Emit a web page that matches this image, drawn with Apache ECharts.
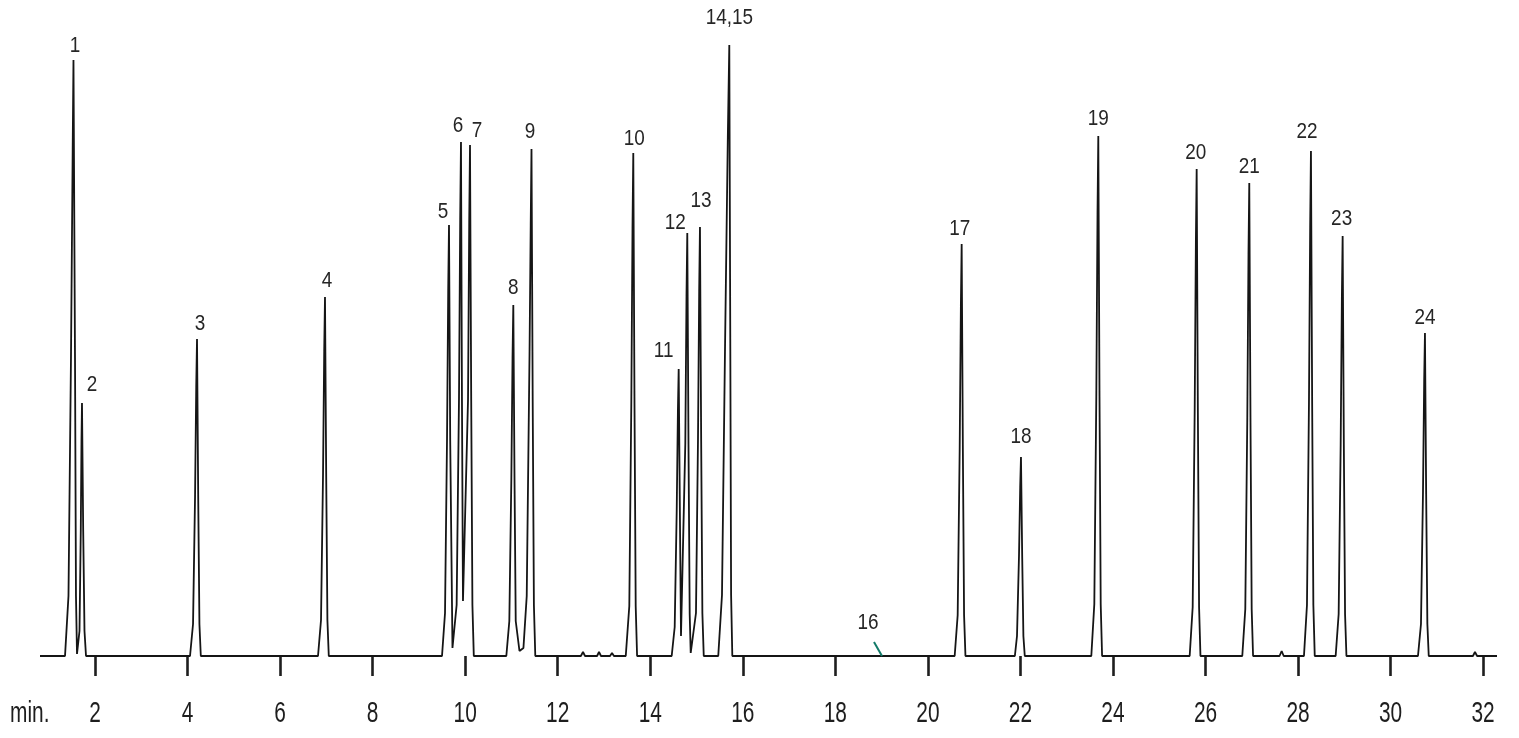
<!DOCTYPE html>
<html>
<head>
<meta charset="utf-8">
<script src="https://cdn.jsdelivr.net/npm/echarts@6/dist/echarts.min.js"></script>
<style>
html,body{margin:0;padding:0;background:#fff;}
#chart{width:1519px;height:738px;}
</style>
</head>
<body>
<div id="chart"></div>
<script>
// Retention time (min) of each point of the detector trace
var traceTime = [
  0.81, 1.351, 1.426, 1.480, 1.517, 1.534, 1.567, 1.588, 1.610,
  1.664, 1.692, 1.707, 1.718, 1.744, 1.772, 1.805,
  4.053, 4.118, 4.161, 4.187, 4.204, 4.230, 4.256, 4.286,
  6.819, 6.884, 6.927, 6.953, 6.970, 6.996, 7.022, 7.052,
  9.499, 9.564, 9.607, 9.633, 9.650, 9.676, 9.725,
  9.815, 9.866, 9.892, 9.909, 9.930, 9.952,
  10.061, 10.087, 10.104, 10.130, 10.156, 10.186,
  10.889, 10.954, 10.997, 11.023, 11.040, 11.066, 11.092, 11.173,
  11.259, 11.330, 11.390, 11.416, 11.433, 11.459, 11.485, 11.515,
  12.500, 12.546, 12.590, 12.850, 12.892, 12.935, 13.130, 13.173, 13.215,
  13.470, 13.547, 13.590, 13.616, 13.633, 13.659, 13.685, 13.715,
  14.463, 14.528, 14.571, 14.597, 14.614, 14.640, 14.664,
  14.757, 14.783, 14.800, 14.826, 14.852, 14.874,
  14.988, 15.031, 15.057, 15.074, 15.100, 15.126, 15.156,
  15.469, 15.550, 15.615, 15.676, 15.708, 15.730, 15.747, 15.773,
  20.579, 20.644, 20.687, 20.713, 20.730, 20.756, 20.782, 20.812,
  21.880, 21.926, 21.969, 21.995, 22.012, 22.038, 22.064, 22.094,
  23.532, 23.597, 23.640, 23.666, 23.683, 23.709, 23.735, 23.765,
  25.658, 25.723, 25.766, 25.792, 25.809, 25.835, 25.861, 25.891,
  26.795, 26.860, 26.903, 26.929, 26.946, 26.972, 26.998, 27.028,
  27.600, 27.646, 27.690,
  28.128, 28.193, 28.236, 28.262, 28.279, 28.305, 28.331, 28.361,
  28.813, 28.878, 28.921, 28.947, 28.964, 28.990, 29.016, 29.046,
  30.592, 30.657, 30.700, 30.726, 30.743, 30.769, 30.795, 30.825,
  31.780, 31.824, 31.870, 32.30
];
// Detector signal at each of those times (arbitrary units)
var traceSignal = [
  0, 0, 60, 298, 507, 596, 298, 60, 2,
  25, 126, 215, 253, 126, 25, 0,
  0, 32, 158, 269, 317, 158, 32, 0,
  0, 36, 180, 305, 359, 180, 36, 0,
  0, 43, 216, 366, 431, 216, 8,
  51, 257, 437, 514, 257, 55,
  256, 434, 511, 256, 51, 0,
  0, 35, 176, 298, 351, 176, 35, 5,
  8, 60, 300, 431, 507, 254, 51, 0,
  0, 4, 0, 0, 4, 0, 0, 3, 0,
  0, 50, 252, 428, 503, 252, 50, 0,
  0, 29, 144, 244, 287, 144, 20,
  212, 360, 423, 212, 42, 3,
  43, 215, 365, 429, 215, 43, 0,
  0, 61, 306, 519, 611, 306, 61, 0,
  0, 41, 206, 350, 412, 206, 41, 0,
  0, 20, 100, 169, 199, 100, 20, 0,
  0, 52, 260, 442, 520, 260, 52, 0,
  0, 49, 244, 414, 487, 244, 49, 0,
  0, 47, 237, 402, 473, 237, 47, 0,
  0, 5, 0,
  0, 51, 253, 429, 505, 253, 51, 0,
  0, 42, 210, 357, 420, 210, 42, 0,
  0, 32, 162, 275, 323, 162, 32, 0,
  0, 4, 0, 0
];
// Peaks: label, apex time (min), apex signal
var peakLabels = ['1','2','3','4','5','6','7','8','9','10','11','12','13','14,15','16','17','18','19','20','21','22','23','24'];
var peakTime   = [1.534, 1.718, 4.204, 6.970, 9.650, 9.909, 10.104, 11.040, 11.433, 13.633, 14.614, 14.800, 15.074, 15.708, 18.835, 20.730, 22.012, 23.683, 25.809, 26.946, 28.279, 28.964, 30.743];
var peakHeight = [596, 253, 317, 359, 431, 514, 511, 351, 507, 503, 287, 423, 429, 611, 14, 412, 199, 520, 487, 473, 505, 420, 323];
// Marker for peak 16 (not detected)
var marker16Time = [18.835, 19.008];
var marker16Level = [14, 0];
// Axis ticks / labels
var tickValues = [2,4,6,8,10,12,14,16,18,20,22,24,26,28,30,32];

// ---- styling (pixel offsets of each peak label from its apex) ----
var labelOffsetPx = [[1.5,-14],[10,-18],[3,-15],[2,-16],[-6,-13],[-3,-16],[7,-14],[0,-17],[-1.5,-17],[1,-14],[-15,-18],[-12,-10],[1,-26],[0,-27],[-6,-19],[-2,-15],[0,-20],[0,-17],[-1,-16],[0,-16],[-4,-19],[-1,-17],[0,-15]];
var TEXT = '#1e1e1e';
var FAMILY = '"Liberation Sans", Arial, sans-serif';
var AXIS_LABEL_DY = 58;   // px below baseline

var traceData = traceTime.map(function (t, i) { return [t, traceSignal[i]]; });
var labelData = peakTime.map(function (t, i) { return [t, peakHeight[i]]; });
var markerData = marker16Time.map(function (t, i) { return [t, marker16Level[i]]; });
var tickData = tickValues.map(function (v) { return [v, 0]; });

var chart = echarts.init(document.getElementById('chart'), null, { renderer: 'canvas' });
chart.setOption({
  animation: false,
  backgroundColor: '#ffffff',
  grid: { left: 2.5, right: 22, top: 0, bottom: 82, containLabel: false },
  xAxis: {
    type: 'value', min: 0, max: 32.3, offset: 16,
    axisLine: { show: false },
    splitLine: { show: false },
    axisTick: { show: true, length: 20, inside: false, customValues: tickValues,
      lineStyle: { color: '#1e1e1e', width: 2.6 } },
    axisLabel: { show: false, customValues: tickValues }
  },
  yAxis: { type: 'value', min: 0, max: 656, show: false },
  graphic: [{
    type: 'text', x: 10, y: 714, scaleX: 0.72,
    style: { text: 'min.', fill: TEXT, fontSize: 29, fontFamily: FAMILY, verticalAlign: 'middle', align: 'left' }
  }],
  series: [
    {
      type: 'line', data: traceData, showSymbol: false, symbol: 'none',
      lineStyle: { color: '#151515', width: 1.8 }, z: 3
    },
    {
      type: 'line', data: markerData, showSymbol: false, symbol: 'none',
      lineStyle: { color: '#127a68', width: 2 }, z: 4
    },
    {
      type: 'custom', data: labelData, clip: false, z: 5,
      renderItem: function (params, api) {
        var p = api.coord([api.value(0), api.value(1)]);
        var off = labelOffsetPx[params.dataIndex];
        return {
          type: 'text', x: p[0] + off[0], y: p[1] + off[1], scaleX: 0.86,
          style: { text: peakLabels[params.dataIndex], fill: '#262626', fontSize: 22, fontFamily: FAMILY,
            align: 'center', verticalAlign: 'middle' }
        };
      }
    },
    {
      type: 'custom', data: tickData, clip: false, z: 5,
      renderItem: function (params, api) {
        var p = api.coord([api.value(0), api.value(1)]);
        return {
          type: 'text', x: p[0], y: p[1] + AXIS_LABEL_DY, scaleX: 0.72,
          style: { text: String(tickValues[params.dataIndex]), fill: TEXT, fontSize: 29, fontFamily: FAMILY,
            align: 'center', verticalAlign: 'middle' }
        };
      }
    }
  ]
});
</script>
</body>
</html>
